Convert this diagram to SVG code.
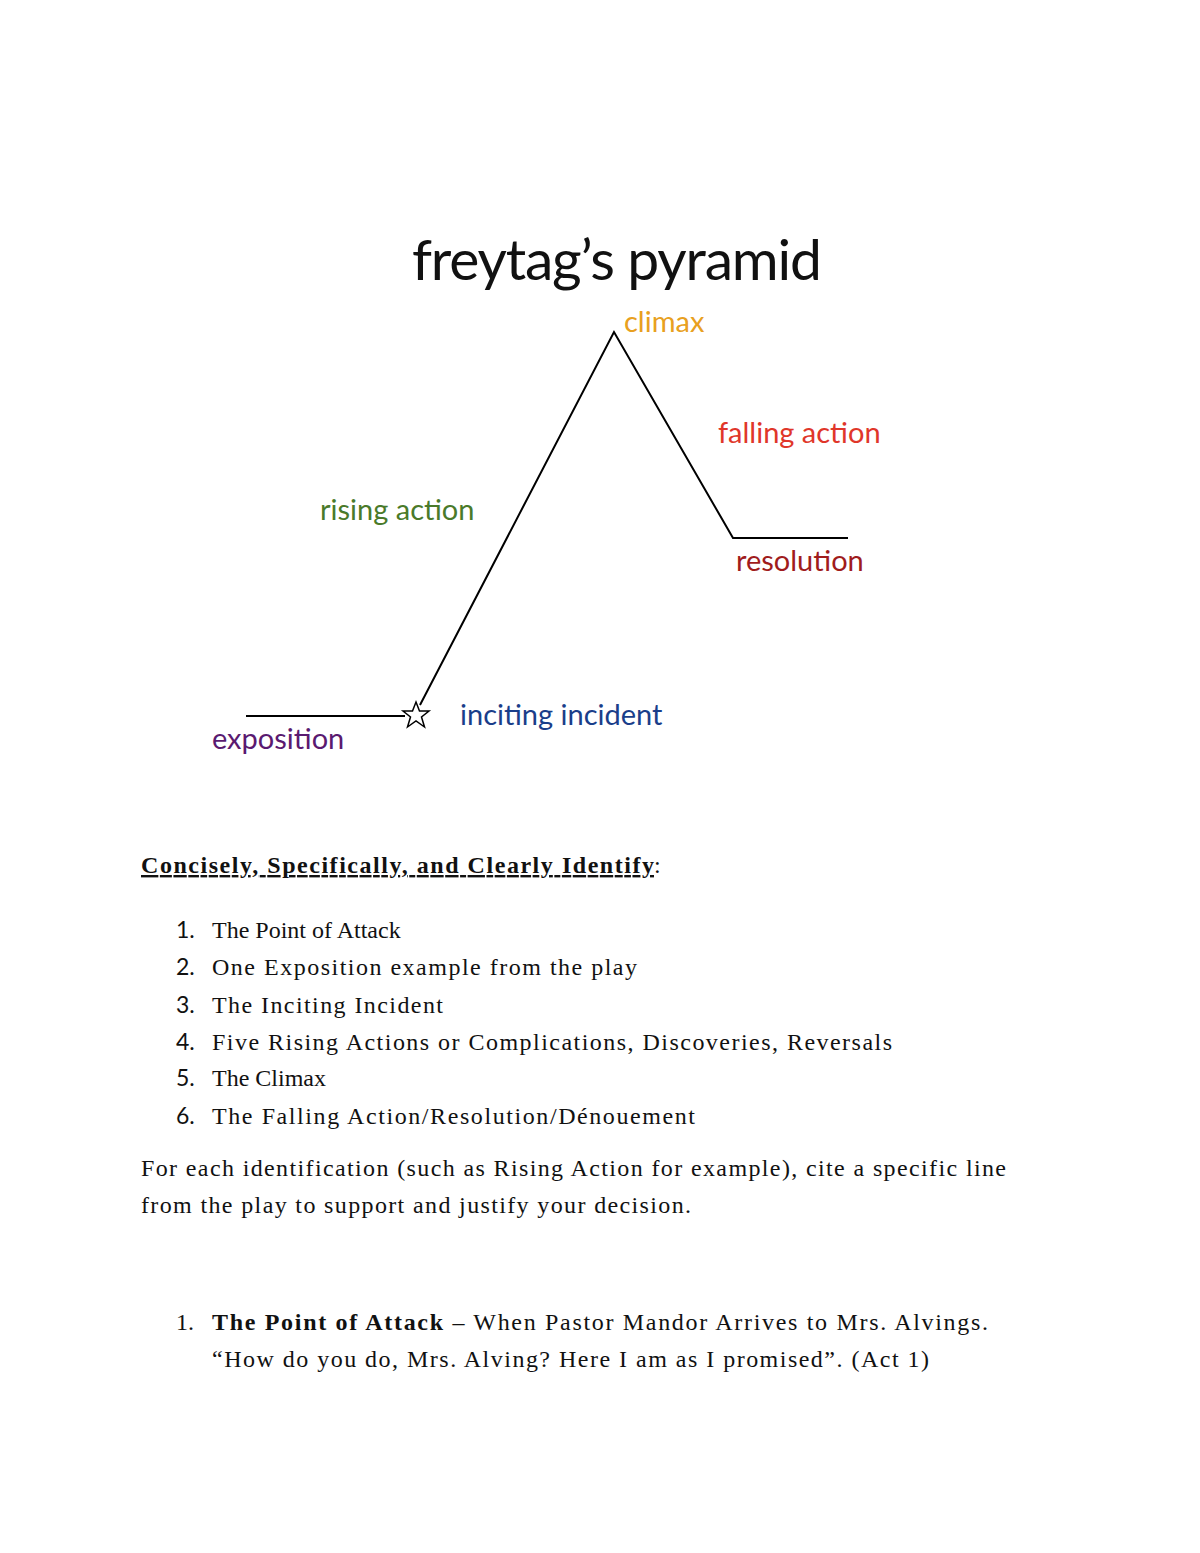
<svg xmlns="http://www.w3.org/2000/svg" width="1200" height="1553" viewBox="0 0 1200 1553">
<style>
.lab{font-family:Lato,"Open Sans",sans-serif;font-size:29px}
.t{font-family:"Liberation Serif",serif;font-size:24px;fill:#111}
.n{font-family:Lato,"Open Sans",sans-serif;font-size:23px;fill:#111}
.ln{stroke:#000;stroke-width:2;fill:none}
</style>
<rect width="1200" height="1553" fill="#fff"/>
<g id="title"><text x="412" y="280" font-family="Lato,'Open Sans',sans-serif" font-size="57" fill="#111" textLength="410">freytag’s pyramid</text></g>
<g id="connectors">
<path class="ln" d="M246 716 L405 716"/>
<path class="ln" d="M420 705 L614 332 L733 538 L848 538"/>
</g>
<g id="star"><polygon points="416,702 419.5,711 429,711 421.5,717 424.5,727 416,721 407.5,727 410.5,717 403,711 412.5,711" fill="#fff" stroke="#000" stroke-width="1.5"/></g>
<g id="climax"><text class="lab" x="624" y="332" fill="#e8a020">climax</text></g>
<g id="falling"><text class="lab" x="718" y="443" fill="#e0362a">falling action</text></g>
<g id="rising"><text class="lab" x="320" y="520" fill="#4a7a2a">rising action</text></g>
<g id="resolution"><text class="lab" x="736" y="571" fill="#a01c1c">resolution</text></g>
<g id="inciting"><text class="lab" x="460" y="725" fill="#1a3e8a">inciting incident</text></g>
<g id="exposition"><text class="lab" x="212" y="749" fill="#5a1a70">exposition</text></g>
<g id="text">
<text class="t" x="141" y="873" font-weight="bold" text-decoration="underline" textLength="513">Concisely, Specifically, and Clearly Identify</text><text class="t" x="654" y="873">:</text>
<text class="n" x="176" y="938">1.</text><text class="t" x="212" y="938">The Point of Attack</text>
<text class="n" x="176" y="975">2.</text><text class="t" x="212" y="975" textLength="425">One Exposition example from the play</text>
<text class="n" x="176" y="1013">3.</text><text class="t" x="212" y="1013" textLength="231">The Inciting Incident</text>
<text class="n" x="176" y="1050">4.</text><text class="t" x="212" y="1050" textLength="680">Five Rising Actions or Complications, Discoveries, Reversals</text>
<text class="n" x="176" y="1086">5.</text><text class="t" x="212" y="1086">The Climax</text>
<text class="n" x="176" y="1124">6.</text><text class="t" x="212" y="1124" textLength="483">The Falling Action/Resolution/Dénouement</text>
<text class="t" x="141" y="1176" textLength="865">For each identification (such as Rising Action for example), cite a specific line</text>
<text class="t" x="141" y="1213" textLength="550">from the play to support and justify your decision.</text>
<text class="t" x="176" y="1330">1.</text><text class="t" x="212" y="1330" textLength="776"><tspan font-weight="bold">The Point of Attack</tspan> – When Pastor Mandor Arrives to Mrs. Alvings.</text>
<text class="t" x="212" y="1367" textLength="717">“How do you do, Mrs. Alving? Here I am as I promised”. (Act 1)</text>
</g>
</svg>
